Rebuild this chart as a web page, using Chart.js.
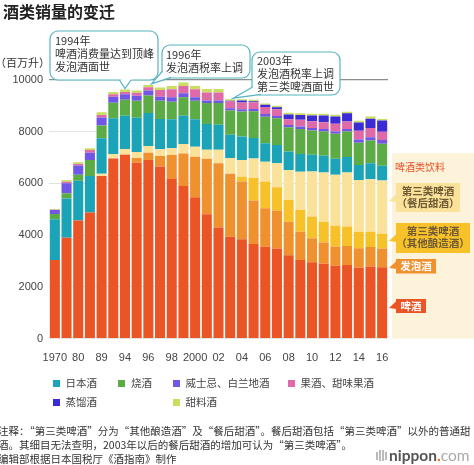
<!DOCTYPE html>
<html lang="zh-CN">
<head>
<meta charset="utf-8">
<script src="https://cdn.jsdelivr.net/npm/chart.js@4.4.1/dist/chart.umd.min.js"></script>
<style>
  html, body { margin: 0; padding: 0; background: #fff; }
  body { font-family: "Noto Sans CJK SC", "Noto Sans", sans-serif; color: #333; }
  #wrap { position: relative; width: 474px; height: 465px; overflow: hidden; }
  #chart { position: absolute; left: 0; top: 0; }
  .t { position: absolute; white-space: nowrap; }
  .title { left: 3px; top: 2px; font-size: 16px; line-height: 18px; font-weight: bold; color: #222; }
  .unit { left: -5px; top: 55px; font-size: 11px; line-height: 14px; color: #333; }
  .call { font-size: 11px; line-height: 13px; color: #333; }
  .panelhead { left: 395px; top: 160px; font-size: 10px; line-height: 13px; color: #e94f26; }
  .lab { font-size: 10.5px; line-height: 12px; font-weight: bold; text-align: center; }
  .legend { font-size: 10.5px; line-height: 12px; color: #444; }
  .sw { position: absolute; width: 7px; height: 7px; }
  .note { left: -2px; top: 424px; font-size: 10.5px; line-height: 14px; color: #333; }
  .logo { left: 389px; top: 446px; font-family: Lato, "Open Sans", sans-serif; font-weight: bold; font-size: 15.5px; line-height: 18px; color: #555; }
  .logo .dot { color: #ee6a2c; }
  .logo .com { color: #aaa; font-weight: normal; }
  .bar { position: absolute; width: 1.5px; background: #bbb; }
</style>
</head>
<body>
<div id="wrap">
  <canvas id="chart"></canvas>
  <div class="t title">酒类销量的变迁</div>
  <div class="t unit">（百万升）</div>

  <div class="t call" style="left:55px; top:34px;">1994年<br>啤酒消费量达到顶峰<br>发泡酒面世</div>
  <div class="t call" style="left:166px; top:47.5px;">1996年<br>发泡酒税率上调</div>
  <div class="t call" style="left:257px; top:54px;">2003年<br>发泡酒税率上调<br>第三类啤酒面世</div>

  <div class="t panelhead">啤酒类饮料</div>
  <div class="t lab" style="left:396px; top:185px; width:64px; color:#6e5a34;">第三类啤酒<br>（餐后甜酒）</div>
  <div class="t lab" style="left:396px; top:225px; width:74px; color:#6e5a34;">第三类啤酒<br>（其他酿造酒）</div>
  <div class="t lab" style="left:396px; top:260px; width:40px; color:#fff;">发泡酒</div>
  <div class="t lab" style="left:396px; top:300px; width:30px; color:#fff;">啤酒</div>

  <div id="legend"></div>

  <div class="t note">注释：“第三类啤酒”分为“其他酿造酒”及“餐后甜酒”。餐后甜酒包括“第三类啤酒”以外的普通甜<br>酒。其细目无法查明，2003年以后的餐后甜酒的增加可认为“第三类啤酒”。<br>编辑部根据日本国税厅《酒指南》制作</div>
  <div class="bar" style="left:376px; top:452px; height:8px;"></div>
  <div class="bar" style="left:379px; top:450px; height:11px;"></div>
  <div class="bar" style="left:382px; top:450px; height:11px;"></div>
  <div class="bar" style="left:385px; top:452px; height:8px;"></div>
  <div class="t logo">nippon<span class="dot">.</span><span class="com">com</span></div>
</div>
<script>
// categories (bars between labelled years are unlabelled)
const years = ["1970", "1975", "1980", "1985", "1989", "1992", "1994", "1995", "1996", "1997",
  "1998", "1999", "2000", "2001", "2002", "2003", "2004", "2005", "2006", "2007", "2008",
  "2009", "2010", "2011", "2012", "2013", "2014", "2015", "2016"];
const tickLabels = ["1970", "", "80", "", "89", "", "94", "", "96", "", "98", "", "2000", "",
  "02", "", "04", "", "06", "", "08", "", "10", "", "12", "", "14", "", "16"];

// million litres
const beer = [3040, 3900, 4560, 4870, 6290, 6960, 7110, 6800, 6910, 6650, 6170, 5900, 5460, 4810,
  4290, 3940, 3840, 3660, 3550, 3480, 3220, 3040, 2950, 2890, 2810, 2840, 2740, 2790, 2760];
const happoshu = [0, 0, 0, 0, 0, 0, 10, 180, 280, 410, 930, 1260, 1570, 2140,
  2490, 2430, 2230, 1680, 1490, 1470, 1300, 1090, 930, 820, 750, 740, 750, 750, 720];
const thirdBrewed = [0, 0, 0, 0, 0, 0, 0, 0, 0, 0, 0, 0, 0, 0,
  0, 0, 190, 870, 1030, 900, 840, 840, 840, 810, 800, 750, 640, 590, 570];
const thirdLiqueur = [0, 0, 0, 0, 80, 180, 210, 230, 260, 260, 260, 360, 390, 350,
  520, 610, 650, 750, 770, 930, 1160, 1480, 1740, 1900, 1970, 2090, 2000, 2030, 2060];
const sake = [1570, 1520, 1540, 1420, 1380, 1380, 1290, 1330, 1270, 1170, 1120, 1100, 1060, 1000,
  970, 900, 900, 800, 710, 710, 710, 690, 650, 650, 620, 600, 580, 620, 570];
const shochu = [210, 200, 230, 620, 490, 600, 620, 660, 680, 710, 680, 710, 720, 810,
  840, 940, 970, 1030, 1030, 1030, 940, 960, 940, 940, 970, 990, 860, 880, 850];
const whisky = [150, 390, 360, 280, 310, 230, 210, 190, 190, 150, 170, 160, 130, 100,
  100, 90, 90, 90, 100, 90, 90, 100, 90, 90, 90, 90, 130, 130, 150];
const fruitWine = [15, 50, 60, 100, 100, 100, 90, 120, 130, 260, 310, 280, 310, 310,
  310, 260, 260, 260, 280, 260, 220, 260, 260, 270, 300, 290, 340, 350, 320];
const spirits = [0, 0, 0, 0, 0, 0, 0, 0, 0, 0, 0, 0, 0, 0,
  0, 30, 80, 40, 80, 80, 190, 190, 230, 260, 280, 320, 320, 360, 430];
const mirin = [25, 70, 70, 65, 100, 90, 90, 80, 90, 100, 130, 130, 130, 130,
  130, 60, 50, 60, 50, 50, 65, 65, 65, 65, 65, 60, 65, 90, 65];

const yTicks = [0, 2000, 4000, 6000, 8000, 10000];

const seriesNames = ["啤酒", "发泡酒", "第三类啤酒（其他酿造酒）", "第三类啤酒（餐后甜酒）", "日本酒",
  "烧酒", "威士忌、白兰地酒", "果酒、甜味果酒", "蒸馏酒", "甜料酒"];
const seriesData = [beer, happoshu, thirdBrewed, thirdLiqueur, sake, shochu, whisky, fruitWine, spirits, mirin];
const seriesColors = ["#eb5424", "#ef912f", "#f7c12a", "#fbe29b", "#1ba4b8",
  "#5dab45", "#7157e6", "#e06aa8", "#3b2bd4", "#c8de5e"];

const totals = years.map((y, i) => seriesData.reduce((s, arr) => s + arr[i], 0));

// legend (only non-beer drinks)
const legendItems = [
  { s: 4, x: 52.5, y: 379.5 }, { s: 5, x: 118, y: 379.5 }, { s: 6, x: 172.5, y: 379.5 },
  { s: 7, x: 287.5, y: 379.5 }, { s: 8, x: 52.5, y: 398.5 }, { s: 9, x: 172.5, y: 398.5 }
];
const legendBox = document.getElementById("legend");
legendItems.forEach((it) => {
  const sw = document.createElement("div");
  sw.className = "sw";
  sw.style.left = it.x + "px";
  sw.style.top = it.y + "px";
  sw.style.background = seriesColors[it.s];
  legendBox.appendChild(sw);
  const tx = document.createElement("div");
  tx.className = "t legend";
  tx.style.left = it.x + 13 + "px";
  tx.style.top = it.y - 2.5 + "px";
  tx.textContent = seriesNames[it.s];
  legendBox.appendChild(tx);
});

function calloutShape(ctx, box, base1, base2, tip) {
  ctx.save();
  ctx.fillStyle = "#fff";
  ctx.strokeStyle = "#55b5c2";
  ctx.lineWidth = 1.2;
  ctx.beginPath();
  ctx.roundRect(box[0], box[1], box[2], box[3], 8);
  ctx.fill();
  ctx.stroke();
  // tail
  ctx.beginPath();
  ctx.moveTo(base1[0], base1[1]);
  ctx.lineTo(tip[0], tip[1]);
  ctx.lineTo(base2[0], base2[1]);
  ctx.lineTo(base2[0] + 2, base2[1] - 3);
  ctx.lineTo(base1[0] + 3, base1[1] - 1);
  ctx.closePath();
  ctx.fill();
  ctx.beginPath();
  ctx.moveTo(base1[0], base1[1]);
  ctx.lineTo(tip[0], tip[1]);
  ctx.lineTo(base2[0], base2[1]);
  ctx.stroke();
  ctx.restore();
}

const annotations = {
  id: "annotations",
  beforeDraw(chart) {
    const ctx = chart.ctx;
    ctx.save();
    ctx.fillStyle = "#fdf3da";
    ctx.fillRect(392, 153, 82, 185.5);
    ctx.restore();
  },
  afterDraw(chart) {
    const ctx = chart.ctx;
    const xs = chart.scales.x;
    const ys = chart.scales.y;
    const tipAt = (i, dx) => [xs.getPixelForValue(i) + dx, ys.getPixelForValue(totals[i]) - 1];

    calloutShape(ctx, [50, 31, 108, 49], [119.5, 80], [131, 80], tipAt(6, 0));
    calloutShape(ctx, [162, 45, 88, 33], [162.6, 71], [171, 77.4], tipAt(8, 3));
    calloutShape(ctx, [252, 52, 88, 43], [252.6, 87], [261, 94.4], tipAt(15, 3));

    // right panel tags
    const tags = [
      { c: seriesColors[3], r: [396, 183, 64, 29], a: 199 },
      { c: seriesColors[2], r: [396, 223, 74, 30], a: 239 },
      { c: seriesColors[1], r: [396, 259, 40, 14.5], a: 266 },
      { c: seriesColors[0], r: [396, 299, 30, 14], a: 306 }
    ];
    tags.forEach((t) => {
      ctx.save();
      ctx.fillStyle = t.c;
      ctx.fillRect(t.r[0], t.r[1], t.r[2], t.r[3]);
      ctx.beginPath();
      ctx.moveTo(t.r[0] + 0.5, t.a - 5);
      ctx.lineTo(t.r[0] - 7, t.a + 2);
      ctx.lineTo(t.r[0] + 0.5, t.a + 3);
      ctx.closePath();
      ctx.fill();
      ctx.restore();
    });
  }
};

new Chart(document.getElementById("chart"), {
  type: "bar",
  data: {
    labels: years,
    datasets: seriesNames.map((name, i) => ({
      label: name,
      data: seriesData[i],
      backgroundColor: seriesColors[i],
      borderWidth: 0,
      barPercentage: 0.86,
      categoryPercentage: 1.0
    }))
  },
  options: {
    responsive: true,
    maintainAspectRatio: false,
    animation: false,
    layout: { padding: { left: 0, top: 80, right: 86, bottom: 102.5 } },
    plugins: { legend: { display: false }, tooltip: { enabled: false } },
    scales: {
      x: {
        stacked: true,
        grid: { display: false },
        border: { display: false },
        ticks: {
          autoSkip: false,
          maxRotation: 0,
          padding: 5,
          color: "#444",
          font: { family: "'Liberation Sans', Arial, sans-serif", size: 11 },
          callback: (v, i) => tickLabels[i]
        },
        afterFit: (scale) => { scale.height = 24; }
      },
      y: {
        stacked: true,
        min: 0,
        max: 10000,
        afterBuildTicks: (scale) => { scale.ticks = yTicks.map((v) => ({ value: v })); },
        grid: {
          drawTicks: false,
          color: (c) => (c.tick && c.tick.value === 10000 ? "#8c8c8c" : "#e2e2e2"),
          lineWidth: (c) => (c.tick && c.tick.value === 10000 ? 1.2 : 1)
        },
        border: { display: false },
        ticks: {
          padding: 6,
          color: "#444",
          font: { family: "'Liberation Sans', Arial, sans-serif", size: 11 },
          callback: (v) => String(v)
        },
        afterFit: (scale) => { scale.width = 49; }
      }
    }
  },
  plugins: [annotations]
});
</script>
</body>
</html>
